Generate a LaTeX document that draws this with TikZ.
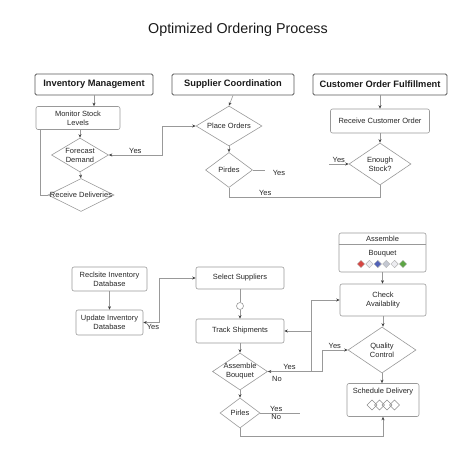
\documentclass[tikz,border=0pt]{standalone}
\usepackage{fontspec}
\setmainfont{Liberation Sans}
\usetikzlibrary{positioning,arrows.meta,shapes.geometric,calc}
\definecolor{gemred}{HTML}{D64541}
\definecolor{gemblue}{HTML}{5262B8}
\definecolor{gemgreen}{HTML}{5CA544}
\definecolor{gemgray}{HTML}{C4C8D2}
\definecolor{gemlight}{HTML}{ECECF0}
\tikzset{
  head/.style = {rectangle, draw=black!65, line width=.8pt, rounded corners=1.5pt,
                 minimum height=21pt, inner sep=0pt,
                 font=\fontsize{9.3}{11}\selectfont\bfseries, text=black!90},
  box/.style  = {rectangle, draw=black!40, line width=.6pt, rounded corners=2pt,
                 inner sep=0pt, align=center, font=\fontsize{7.5}{9}\selectfont, text=black!85},
  dec/.style  = {diamond, draw=black!40, line width=.6pt, inner sep=0pt},
  txt/.style  = {align=center, font=\fontsize{7.5}{9}\selectfont, text=black!85, inner sep=0pt},
  lab/.style  = {font=\fontsize{7.5}{9}\selectfont, text=black!85, inner sep=1.5pt},
  wire/.style = {draw=black!40, line width=.6pt},
  edge/.style = {wire, -{Stealth[length=3.5pt, width=3pt, color=black!75]}},
  both/.style = {wire, {Stealth[length=3.5pt, width=3pt, color=black!75]}-{Stealth[length=3.5pt, width=3pt, color=black!75]}},
  gem/.style  = {diamond, draw=black!30, line width=.4pt, minimum size=7.5pt, inner sep=0pt},
  knot/.style = {circle, draw=black!40, line width=.6pt, fill=white, minimum size=7pt, inner sep=0pt},
}

\begin{document}
\begin{tikzpicture}[x=1pt, y=1pt]

  \useasboundingbox (0,0) rectangle (474,474);

  \node[font=\fontsize{14.3}{17}\selectfont, text=black!90] (title) at (238,444) {Optimized Ordering Process};

  \node[head, minimum width=118pt] (h1) at (94,389.5)  {Inventory Management};
  \node[head, minimum width=122pt] (h2) at (233,389.5) {Supplier Coordination};
  \node[head, minimum width=134pt] (h3) at (380,389.5) {Customer Order Fulfillment};

  \node[box, minimum width=84pt, minimum height=23pt] (ms) at (78,356) {Monitor Stock\\Levels};
  \node[dec, minimum width=57pt, minimum height=34pt] (fd) at (80,319) {};
  \node[txt] (fdt) at (fd) {Forecast\\Demand};
  \node[dec, minimum width=66pt, minimum height=33pt] (rd) at (81,279) {};
  \node[txt] (rdt) at (rd) {Receive Deliveries};

  \node[dec, minimum width=66pt, minimum height=40pt] (po) at (229,348) {};
  \node[txt] (pot) at (po) {Place Orders};
  \node[dec, minimum width=47pt, minimum height=35pt] (pr) at (229,304) {};
  \node[txt] (prt) at (pr) {Pirdes};
  \coordinate (pre) at (265,304);

  \node[box, minimum width=99pt, minimum height=24pt] (rc) at (380,353) {Receive Customer Order};
  \node[dec, minimum width=62pt, minimum height=42pt] (es) at (380,310) {};
  \node[txt] (est) at (es) {Enough\\Stock?};
  \coordinate (yin) at (329,310);

  \draw[edge] (h1.south) -- (h1.south |- ms.north);
  \draw[edge] (fd.north |- ms.south) -- (fd.north);
  \draw[edge] (fd.south) -- (rd.north);
  \draw[wire] ($(ms.south west)+(5,0)$) |- (rd.west);
  \draw[both] (fd.east) -- node[lab, above] {Yes} ++(53,0) |- (po.west);

  \draw[edge] (h2.south) -- (po.north);
  \draw[edge] (po.south) -- (pr.north);
  \draw[wire] (pr.east) -- (pre);
  \node[lab] (y2) at (279,301) {Yes};
  \draw[wire] (pr.south) -- ++(0,-10) -| node[lab, above, pos=.12] {Yes} (es.south);

  \draw[edge] (h3.south) -- (rc.north);
  \draw[edge] (rc.south) -- (es.north);
  \draw[edge] (yin) -- node[lab, above] {Yes} (es.west);

  \node[box, minimum width=75pt, minimum height=24pt] (rid) at (109.5,195)   {Reclsite Inventory\\Database};
  \node[box, minimum width=67pt, minimum height=25pt] (uid) at (109.5,151.5) {Update Inventory\\Database};

  \node[box, minimum width=88pt, minimum height=22pt] (ss) at (240,196) {Select Suppliers};
  \node[knot] (cc) at (240,168) {};
  \node[box, minimum width=88pt, minimum height=24pt] (ts) at (240,143) {Track Shipments};
  \node[dec, minimum width=55pt, minimum height=37pt] (ab) at (240,102.5) {};
  \node[txt] (abt) at (ab) {Assemble\\Bouquet};
  \node[dec, minimum width=40pt, minimum height=30pt] (pl) at (240,61) {};
  \node[txt] (plt) at (pl) {Pirles};
  \coordinate (pe) at (300,61);
  \coordinate (jn) at (311,102.5);

  \node[box, minimum width=87pt, minimum height=39pt] (asm) at (382.5,221.5) {};
  \draw[wire] ($(asm.north west)+(0,-12)$) -- ($(asm.north east)+(0,-12)$);
  \node[txt] (asmt) at ($(asm.north)+(0,-6)$) {Assemble};
  \node[txt] (bq) at (382.5,220) {Bouquet};
  \foreach \c [count=\i from 0] in {gemred,gemlight,gemblue,gemgray,gemlight,gemgreen}
    \node[gem, fill=\c] (g\i) at (361+8.4*\i,210) {};

  \node[box, minimum width=86pt, minimum height=32pt] (ca) at (383,174) {Check\\Availablity};
  \node[dec, minimum width=68pt, minimum height=46pt] (qc) at (382,124) {};
  \node[txt] (qct) at (qc) {Quality\\Control};
  \node[box, minimum width=72pt, minimum height=33pt] (sd) at (383,74) {};
  \node[txt] (sdt) at (383,82) {Schedule Delivery};
  \foreach \i in {0,...,3}
    \draw[wire, black!45, line width=.5pt] (372+7.5*\i,69) +(-5,0) -- +(0,5) -- +(5,0) -- +(0,-5) -- cycle;

  \draw[edge] (rid.south) -- (uid.north);
  \draw[both] (uid.east) -- node[lab, below, pos=.6] {Yes} ++(16,0) |- (ss.west);
  \draw[wire] (ss.south) -- (cc.north);
  \draw[edge] (cc.south) -- (ts.north);
  \draw[edge] (ts.south) -- (ab.north);
  \draw[edge] (ab.south) -- (pl.north);
  \draw[wire] (pl.east) -- node[lab, above, pos=.4] {Yes} node[lab, below, pos=.4] {No} (pe);
  \draw[edge] (pl.south) -- ++(0,-8) -| (sd.south);

  \draw[edge] (jn) -- node[lab, above] {Yes} (ab.east);
  \node[lab] (no1) at (277,95) {No};
  \draw[edge] (jn) |- (ca.west);
  \draw[edge] (jn |- ts.east) -- (ts.east);
  \draw[edge] (jn) -- ++(11,0) |- node[lab, above, pos=.75] {Yes} (qc.west);

  \draw[edge] (asm.south) -- (asm.south |- ca.north);
  \draw[edge] (ca.south) -- (ca.south |- qc.north);
  \draw[edge] (qc.south) -- (qc.south |- sd.north);

\end{tikzpicture}
\end{document}
